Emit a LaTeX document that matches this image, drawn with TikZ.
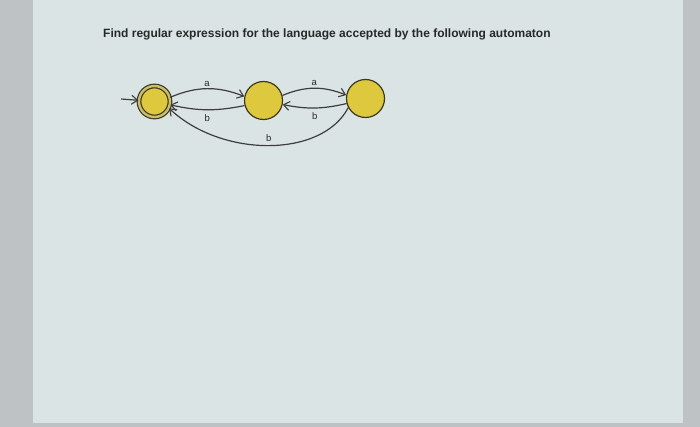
\documentclass[tikz,border=0pt]{standalone}
\usepackage{fontspec}
\setmainfont{Liberation Sans}
\usetikzlibrary{arrows.meta}
\definecolor{bgside}{RGB}{190,194,196}
\definecolor{page}{RGB}{218,228,228}
\definecolor{stfill}{RGB}{222,200,62}
\definecolor{ring}{RGB}{200,190,110}
\definecolor{stline}{RGB}{60,56,30}
\definecolor{txt}{RGB}{40,40,40}
\tikzset{
  state/.style={circle, draw=stline, line width=1.2pt, fill=stfill, minimum size=38pt, inner sep=0pt},
  accstate/.style={state, double=ring, double distance=2.4pt, minimum size=31pt},
  trans/.style={-{Straight Barb[length=6pt,width=9pt,line width=1.1pt]}, draw=txt!90, line width=1.2pt},
  lbl/.style={font=\fontsize{9.5}{11}\selectfont, text=txt, inner sep=1pt}
}
\begin{document}
\begin{tikzpicture}[x=1pt,y=-1pt]
\useasboundingbox (0,0) rectangle (700,427);
\fill[bgside] (0,0) rectangle (700,427);
\fill[page] (33,0) rectangle (683,423);
\node[anchor=base west, text=txt, font=\bfseries\fontsize{12}{13}\selectfont, inner sep=0pt] (title) at (103,38) {Find regular expression for the language accepted by the following automaton};
\node[accstate] (q1) at (154.5,101.5) {};
\node[state] (q2) at (263.5,100.5) {};
\node[state] (q3) at (365.5,98.5) {};
\coordinate (init) at (121,99);
\coordinate (c1) at (322,158);
\coordinate (c2) at (222,158);
\draw[trans] (init) -- (q1);
\draw[trans] (q1.15) to[bend left=22] node[lbl, above=1pt] (la1) {a} (q2.168);
\draw[trans] (q2.195) to[bend left=12] node[lbl, below=3pt] (lb1) {b} (q1.-12);
\draw[trans] (q2.15) to[bend left=22] node[lbl, above=1pt] (la2) {a} (q3.170);
\draw[trans] (q3.195) to[bend left=12] node[lbl, below=3pt] (lb2) {b} (q2.-12);
\draw[trans] (q3.208) .. controls (c1) and (c2) .. node[lbl, pos=0.5, above=2pt] (lb3) {b} (q1.-25);
\end{tikzpicture}
\end{document}
